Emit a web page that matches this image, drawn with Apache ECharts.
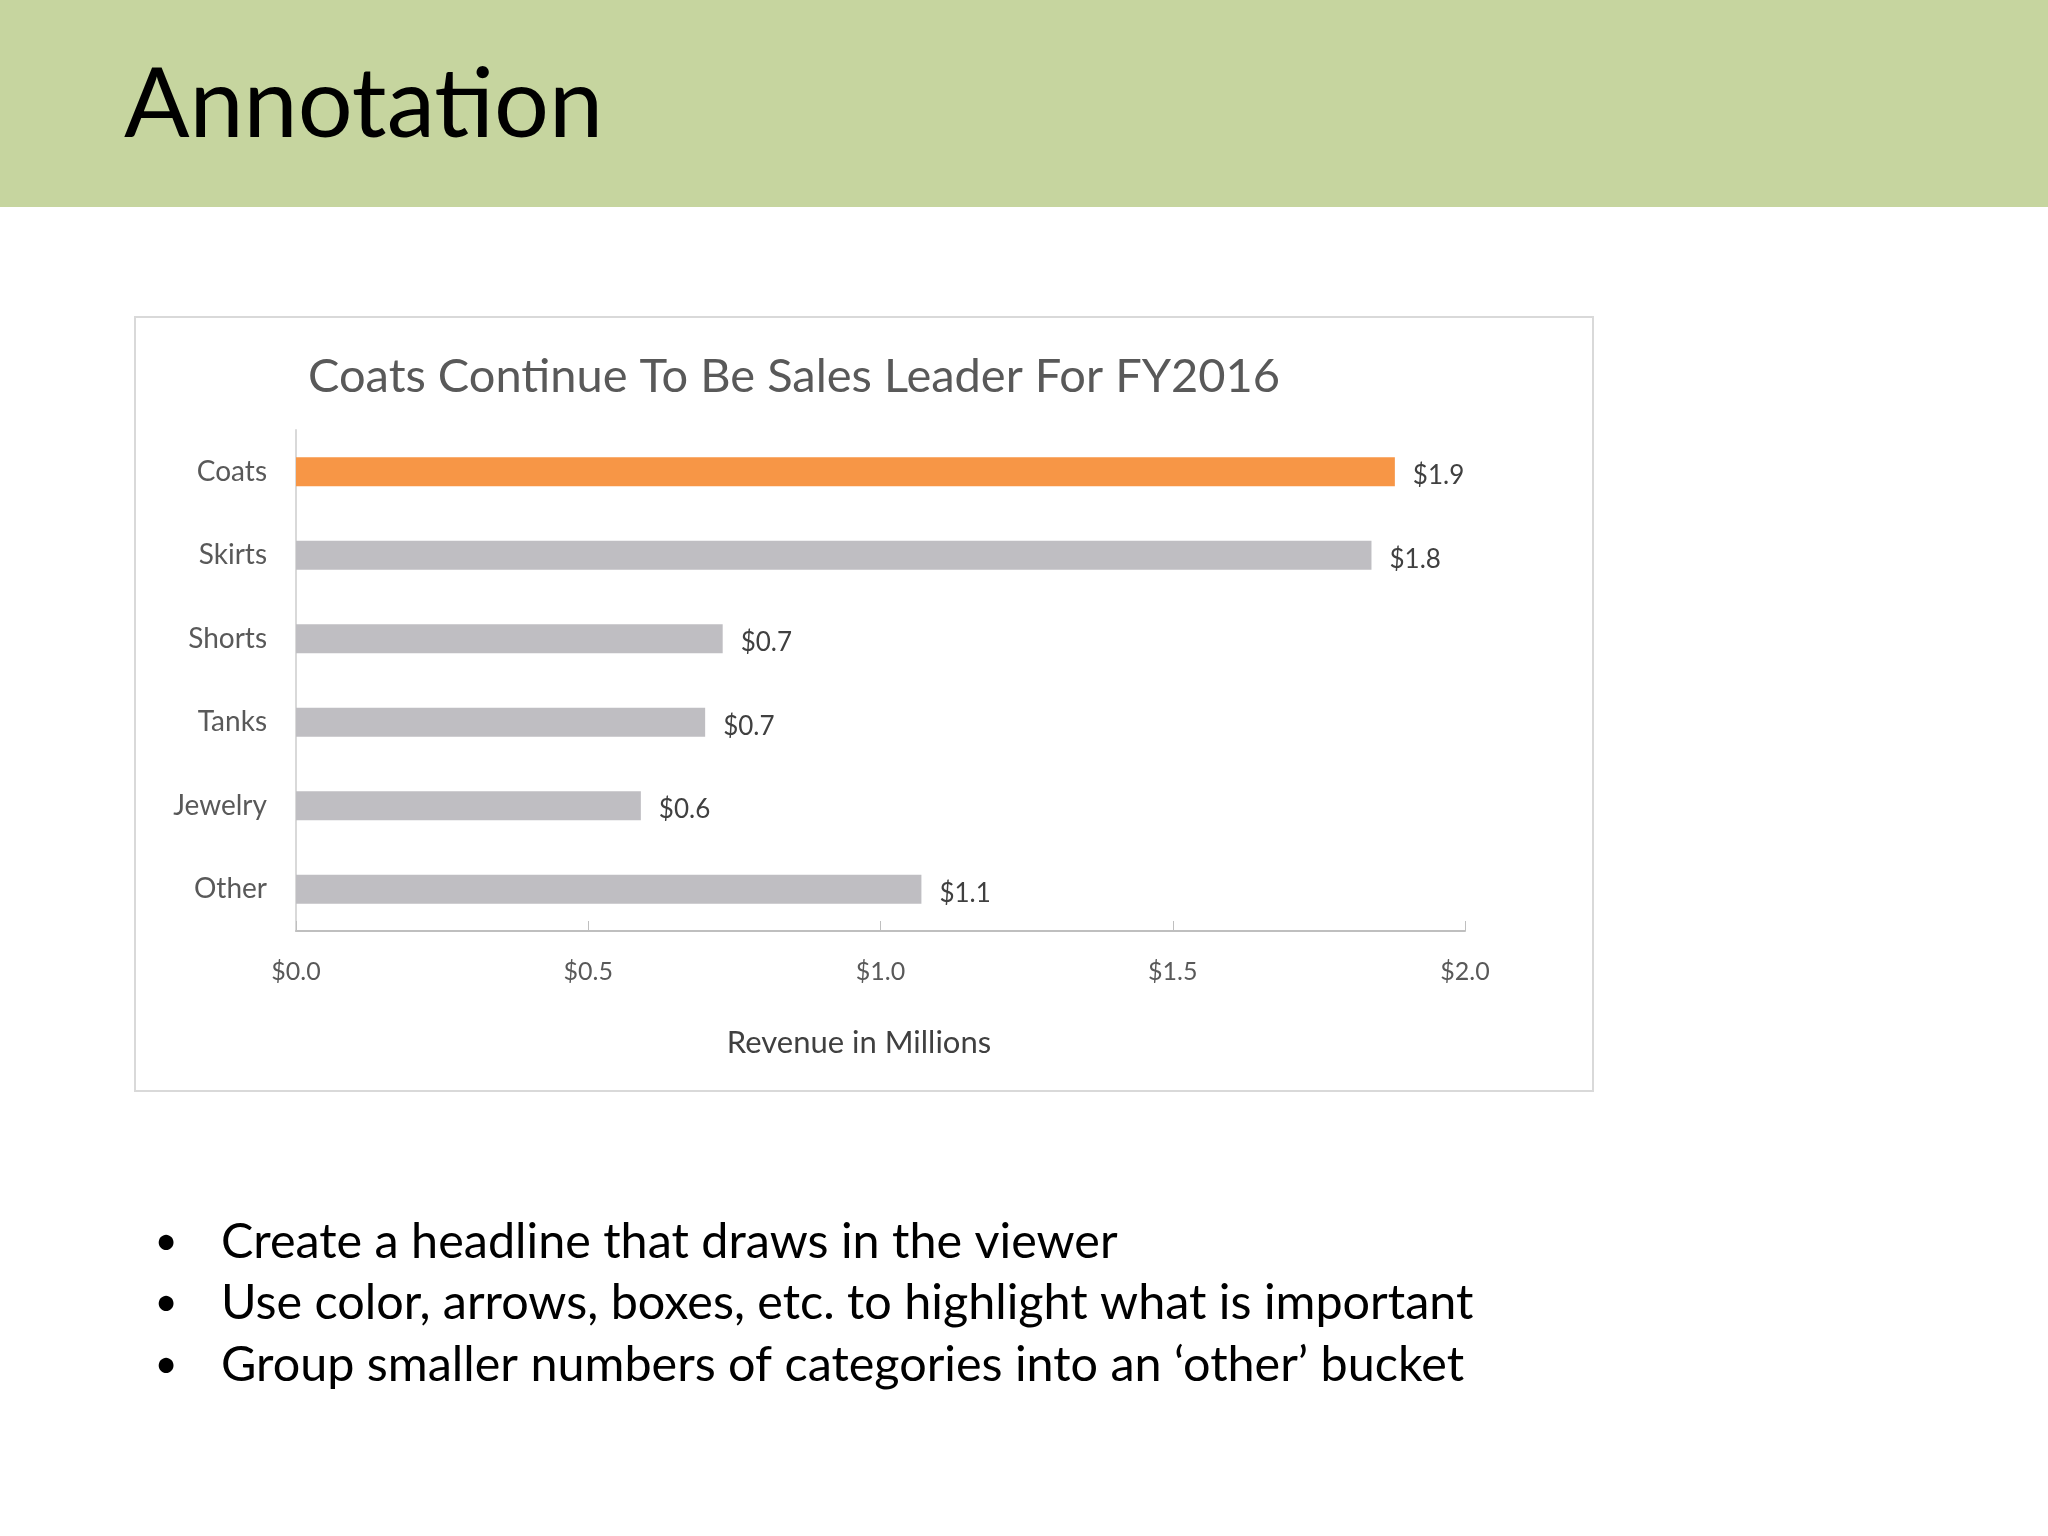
<!DOCTYPE html>
<html>
<head>
<meta charset="utf-8">
<script src="https://cdn.jsdelivr.net/npm/echarts@6/dist/echarts.min.js"></script>
<style>
  html, body { margin: 0; padding: 0; background: #fff; }
  #chart { width: 2048px; height: 1536px; }
</style>
</head>
<body>
<div id="chart"></div>
<script>
// data
var categories = ["Coats", "Skirts", "Shorts", "Tanks", "Jewelry", "Other"];
var revenue = [1.88, 1.84, 0.73, 0.70, 0.59, 1.07];
var highlighted = ["Coats"];
var xTicks = [0, 0.5, 1.0, 1.5, 2.0];
var bullets = [
  "Create a headline that draws in the viewer",
  "Use color, arrows, boxes, etc. to highlight what is important",
  "Group smaller numbers of categories into an \u2018other\u2019 bucket"
];

var FONT = "Lato";
var ORANGE = "#f79646";
var GREY = "#bfbec2";

var myChart = echarts.init(document.getElementById("chart"));

var barData = categories.map(function (c, i) {
  return {
    value: revenue[i],
    itemStyle: { color: highlighted.indexOf(c) >= 0 ? ORANGE : GREY }
  };
});

// slide furniture: header band, chart frame, axis title, bullet list
var graphics = [
  { type: "rect", shape: { x: 0, y: 0, width: 2048, height: 207 }, style: { fill: "#c6d59f" }, silent: true },
  { type: "text", x: 124, y: 106, style: { text: "Annotation", font: "97px " + FONT, fill: "#000", verticalAlign: "middle" } },
  { type: "rect", shape: { x: 135, y: 317, width: 1458, height: 774 }, style: { fill: null, stroke: "#d9d9d9", lineWidth: 2 } },
  { type: "text", x: 859, y: 1043, style: { text: "Revenue in Millions", font: "31px " + FONT, fill: "#404040", align: "center", verticalAlign: "middle" } }
];
var bulletY = [1242, 1303, 1365];
bullets.forEach(function (b, i) {
  graphics.push({ type: "text", x: 166, y: bulletY[i], style: { text: "\u2022", font: "40px " + FONT, fill: "#000", align: "center", verticalAlign: "middle" } });
  graphics.push({ type: "text", x: 221, y: bulletY[i], style: { text: b, font: "48.5px " + FONT, fill: "#000", verticalAlign: "middle" } });
});

var option = {
  backgroundColor: "#fff",
  animation: false,
  title: {
    text: "Coats Continue To Be Sales Leader For FY2016",
    left: 303,
    top: 348,
    textStyle: { fontFamily: FONT, fontSize: 47, fontWeight: "normal", color: "#595959" }
  },
  grid: { left: 296, top: 430, width: 1169, height: 501 },
  xAxis: {
    type: "value",
    min: xTicks[0],
    max: xTicks[xTicks.length - 1],
    interval: 0.5,
    axisLine: { show: true, lineStyle: { color: "#bfbfbf", width: 2 } },
    axisTick: { show: true, inside: true, length: 10, lineStyle: { color: "#bfbfbf" } },
    splitLine: { show: false },
    axisLabel: {
      margin: 28,
      fontFamily: FONT,
      fontSize: 25,
      color: "#595959",
      formatter: function (v) { return "$" + v.toFixed(1); }
    }
  },
  yAxis: {
    type: "category",
    data: categories,
    inverse: true,
    axisLine: { show: true, lineStyle: { color: "#d9d9d9", width: 2 } },
    axisTick: { show: false },
    axisLabel: { margin: 29, fontFamily: FONT, fontSize: 28, color: "#595959" }
  },
  series: [
    {
      type: "bar",
      data: barData,
      barWidth: 29,
      label: {
        show: true,
        position: "right",
        distance: 18,
        offset: [0, 4],
        fontFamily: FONT,
        fontSize: 26,
        color: "#404040",
        formatter: function (p) { return "$" + p.value.toFixed(1); }
      }
    }
  ],
  graphic: graphics
};

myChart.setOption(option);
</script>
</body>
</html>
